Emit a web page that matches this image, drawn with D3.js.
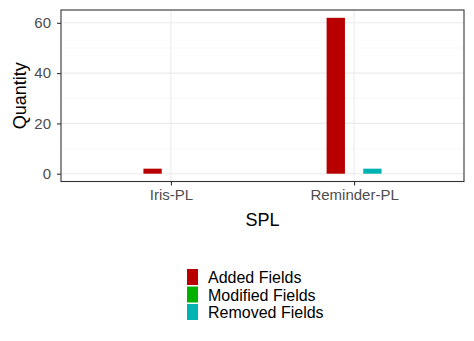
<!DOCTYPE html>
<html>
<head>
<meta charset="utf-8">
<script src="https://cdn.jsdelivr.net/npm/d3@7"></script>
<style>
  body { margin: 0; background: #fff; }
  text { font-family: "Liberation Sans", Arial, sans-serif; }
</style>
</head>
<body>
<svg id="chart" width="474" height="341"></svg>
<script>
// data
const spls = ['Iris-PL', 'Reminder-PL'];
const fieldTypes = ['Added Fields', 'Modified Fields', 'Removed Fields'];
const added = [2, 62];
const modified = [0, 0];
const removed = [0, 2];
const yTicks = [0, 20, 40, 60];
const yMinor = [10, 30, 50];

const colors = ['#b80000', '#00b000', '#00b3b3'];
const seriesValues = [added, modified, removed];

const margin = {left: 61, top: 10, right: 10, bottom: 160};
const panelW = 464 - margin.left;
const panelH = 181.5 - margin.top;

const svg = d3.select('#chart');
const g = svg.append('g')
  .attr('transform', `translate(${margin.left}, ${margin.top})`);

// discrete axis with ggplot style 0.6 expansion
const xPos = d3.scaleLinear().domain([0.4, 2.6]).range([0, panelW]);
const xScale = d3.scalePoint().domain(spls).range([xPos(1), xPos(2)]);
const yScale = d3.scaleLinear().domain([-3.1, 65.1]).range([panelH, 0]);
const barW = xPos(0.1) - xPos(0);

// grid
g.selectAll('.minor').data(yMinor).enter().append('line')
  .attr('x1', 0).attr('x2', panelW)
  .attr('y1', d => yScale(d)).attr('y2', d => yScale(d))
  .attr('stroke', '#f3f3f3').attr('stroke-width', 0.6);
g.selectAll('.major').data(yTicks).enter().append('line')
  .attr('x1', 0).attr('x2', panelW)
  .attr('y1', d => yScale(d)).attr('y2', d => yScale(d))
  .attr('stroke', '#ebebeb').attr('stroke-width', 1.1);
g.selectAll('.vmajor').data(spls).enter().append('line')
  .attr('x1', d => xScale(d)).attr('x2', d => xScale(d))
  .attr('y1', 0).attr('y2', panelH)
  .attr('stroke', '#ebebeb').attr('stroke-width', 1.1);

// bars
const barData = [];
spls.forEach((s, i) => {
  fieldTypes.forEach((f, j) => {
    barData.push({spl: s, type: j, value: seriesValues[j][i]});
  });
});

g.selectAll('rect.bar').data(barData).enter().append('rect')
  .attr('class', 'bar')
  .attr('x', d => xScale(d.spl) + (d.type - 1.5) * barW)
  .attr('width', barW)
  .attr('y', d => yScale(d.value))
  .attr('height', d => yScale(0) - yScale(d.value))
  .attr('fill', d => colors[d.type])
  .attr('stroke', d => d.value == 0 ? colors[d.type] : 'none')
  .attr('stroke-width', 0.4)
  .attr('stroke-opacity', 0.6);

// panel border
g.append('rect')
  .attr('width', panelW).attr('height', panelH)
  .attr('fill', 'none').attr('stroke', '#333333').attr('stroke-width', 1.1);

// axes
const yAxis = d3.axisLeft(yScale).tickValues(yTicks).tickSize(4).tickPadding(6);
const yG = g.append('g').call(yAxis);
yG.select('.domain').remove();
yG.selectAll('line').attr('stroke', '#333333').attr('stroke-width', 1.1);
yG.selectAll('text').attr('fill', '#4d4d4d').style('font-size', '15px');

const xAxis = d3.axisBottom(xScale).tickSize(4).tickPadding(4);
const xG = g.append('g').attr('transform', `translate(0, ${panelH})`).call(xAxis);
xG.select('.domain').remove();
xG.selectAll('line').attr('stroke', '#333333').attr('stroke-width', 1.1);
xG.selectAll('text').attr('fill', '#4d4d4d').style('font-size', '15px');

// titles
svg.append('text')
  .attr('x', margin.left + panelW / 2).attr('y', 226)
  .attr('text-anchor', 'middle')
  .style('font-size', '18px')
  .text('SPL');

svg.append('text')
  .attr('transform', `translate(26, ${margin.top + panelH / 2}) rotate(-90)`)
  .attr('text-anchor', 'middle')
  .style('font-size', '18px')
  .text('Quantity');

// legend
const legend = svg.append('g').attr('transform', 'translate(187, 269)');
const items = legend.selectAll('g').data(fieldTypes).enter().append('g')
  .attr('transform', (d, i) => `translate(0, ${i * 17.5})`);
items.append('rect')
  .attr('width', 11).attr('height', 16)
  .attr('fill', (d, i) => colors[i]);
items.append('text')
  .attr('x', 21).attr('y', 14)
  .style('font-size', '16px')
  .text(d => d);
</script>
</body>
</html>
